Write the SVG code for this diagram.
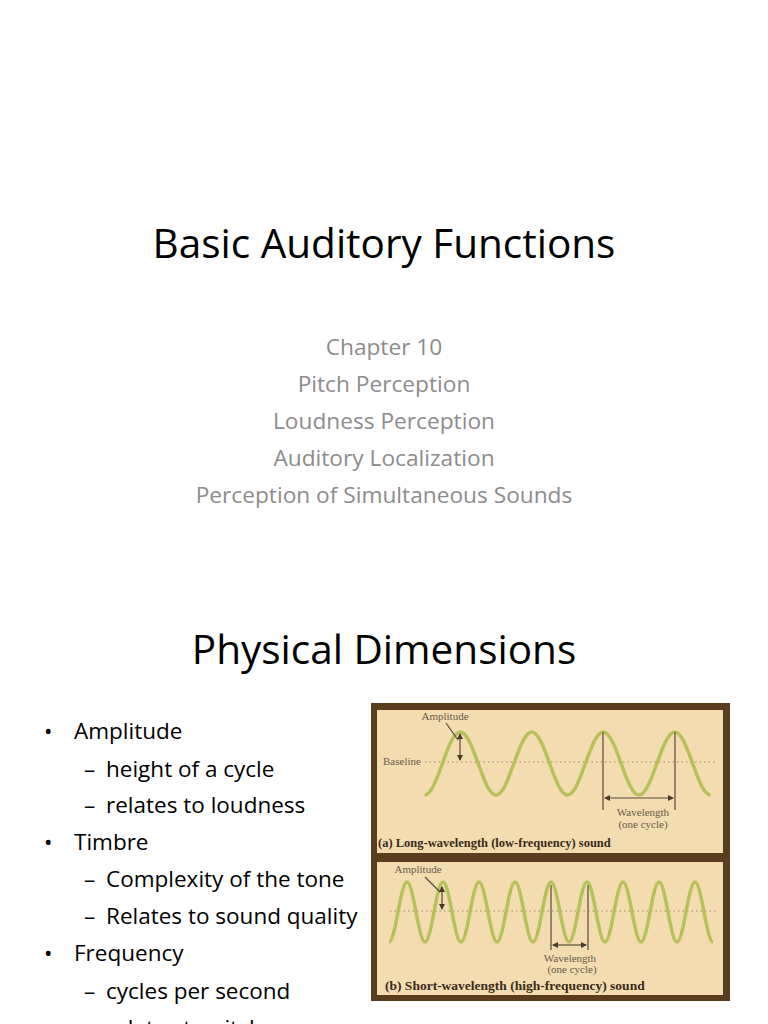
<svg xmlns="http://www.w3.org/2000/svg" width="768" height="1024" viewBox="0 0 768 1024">
<style>
.t{font-family:"Open Sans","Liberation Sans",sans-serif;fill:#000}
.g{font-family:"Open Sans","Liberation Sans",sans-serif;fill:#8c8c8c;font-size:22.7px;text-anchor:middle}
.b{font-family:"Open Sans","Liberation Sans",sans-serif;font-size:22.5px;fill:#000}
.s{font-family:"Liberation Serif",serif;fill:#6a5a4a;font-size:11px}
.c{font-family:"Liberation Serif",serif;fill:#3a2a1a;font-weight:bold}
.w{fill:none;stroke:#b5c25a;stroke-width:3.5}
.d{stroke:#a08a70;stroke-width:1;stroke-dasharray:1.5 3}
.l{stroke:#5a4a3a;stroke-width:1.2;fill:none}
</style>
<defs><marker id="a" viewBox="0 0 6 6" refX="5" refY="3" markerWidth="5" markerHeight="5" orient="auto"><path d="M0,0L6,3L0,6z" fill="#4a3a2a"/></marker></defs>
<rect width="768" height="1024" fill="#fff"/>
<text class="t" x="384" y="258" font-size="40.5" text-anchor="middle">Basic Auditory Functions</text>
<text class="g" x="384" y="355">Chapter 10</text>
<text class="g" x="384" y="392">Pitch Perception</text>
<text class="g" x="384" y="429">Loudness Perception</text>
<text class="g" x="384" y="466">Auditory Localization</text>
<text class="g" x="384" y="503">Perception of Simultaneous Sounds</text>
<text class="t" x="384" y="664" font-size="40.5" text-anchor="middle">Physical Dimensions</text>
<g class="b">
<text x="44" y="739">•</text><text x="74" y="739">Amplitude</text>
<text x="84" y="777">–</text><text x="106" y="777">height of a cycle</text>
<text x="84" y="813">–</text><text x="106" y="813">relates to loudness</text>
<text x="44" y="850">•</text><text x="74" y="850">Timbre</text>
<text x="84" y="887">–</text><text x="106" y="887">Complexity of the tone</text>
<text x="84" y="924">–</text><text x="106" y="924">Relates to sound quality</text>
<text x="44" y="961">•</text><text x="74" y="961">Frequency</text>
<text x="84" y="999">–</text><text x="106" y="999">cycles per second</text>
<text x="84" y="1036">–</text><text x="106" y="1036">relates to pitch</text>
</g>
<g id="figure">
<rect x="371" y="703" width="359" height="298" fill="#5a3d1e"/>
<rect x="377" y="710" width="346" height="143" fill="#f2dcb0"/>
<rect x="377" y="862" width="346" height="133" fill="#f2dcb0"/>
<line class="d" x1="425" y1="762" x2="716" y2="762"/>
<path class="w" d="M424.5,795 C437.5,795 447.25,732 460.25,732 S483,795 496,795 S518.75,732 531.75,732 S554.5,795 567.5,795 S590.25,732 603.25,732 S626,795 639,795 S661.75,732 674.75,732 S697.5,795 710.5,795"/>
<text class="s" x="445" y="720" text-anchor="middle">Amplitude</text>
<line class="l" x1="446" y1="723" x2="458" y2="740"/>
<line class="l" x1="460" y1="745" x2="460" y2="734" marker-end="url(#a)"/>
<line class="l" x1="460" y1="745" x2="460" y2="760" marker-end="url(#a)"/>
<text class="s" x="383" y="765">Baseline</text>
<line class="l" x1="603" y1="732" x2="603" y2="810"/>
<line class="l" x1="675" y1="732" x2="675" y2="810"/>
<line class="l" x1="639" y1="798" x2="605" y2="798" marker-end="url(#a)"/>
<line class="l" x1="639" y1="798" x2="673" y2="798" marker-end="url(#a)"/>
<text class="s" x="643" y="816" text-anchor="middle">Wavelength</text>
<text class="s" x="643" y="828" text-anchor="middle">(one cycle)</text>
<text class="c" x="378" y="847" font-size="12.5">(a) Long-wavelength (low-frequency) sound</text>
<line class="d" x1="390" y1="911" x2="716" y2="911"/>
<path class="w" d="M389,942 C395.5,942 400.5,882 407,882 S418.5,942 425,942 S436.5,882 443,882 S454.5,942 461,942 S472.5,882 479,882 S490.5,942 497,942 S508.5,882 515,882 S526.5,942 533,942 S544.5,882 551,882 S562.5,942 569,942 S580.5,882 587,882 S598.5,942 605,942 S616.5,882 623,882 S634.5,942 641,942 S652.5,882 659,882 S670.5,942 677,942 S688.5,882 695,882 S706.5,942 713,942"/>
<text class="s" x="418" y="873" text-anchor="middle" font-size="12">Amplitude</text>
<line class="l" x1="425" y1="877" x2="440" y2="892"/>
<line class="l" x1="442" y1="898" x2="442" y2="887" marker-end="url(#a)"/>
<line class="l" x1="442" y1="898" x2="442" y2="909" marker-end="url(#a)"/>
<line class="l" x1="551" y1="885" x2="551" y2="950"/>
<line class="l" x1="588" y1="885" x2="588" y2="950"/>
<line class="l" x1="569" y1="945" x2="553" y2="945" marker-end="url(#a)"/>
<line class="l" x1="569" y1="945" x2="586" y2="945" marker-end="url(#a)"/>
<text class="s" x="570" y="962" text-anchor="middle">Wavelength</text>
<text class="s" x="572" y="973" text-anchor="middle">(one cycle)</text>
<text class="c" x="385" y="990" font-size="13.5">(b) Short-wavelength (high-frequency) sound</text>
</g>
</svg>
